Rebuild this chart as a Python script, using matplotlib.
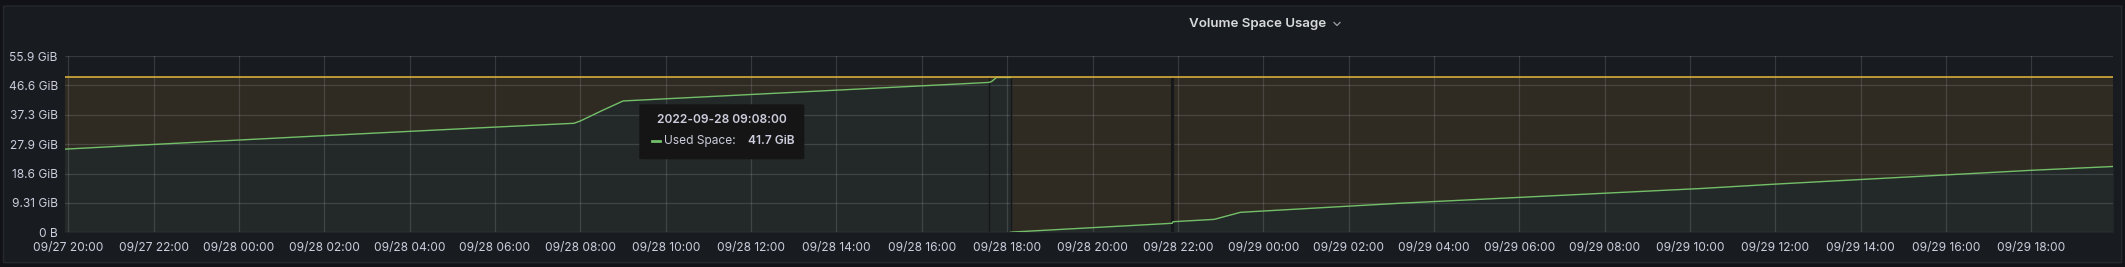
"""Volume Space Usage panel, Grafana dark style."""

import matplotlib
matplotlib.use("Agg")
import matplotlib.pyplot as plt
import matplotlib.dates as mdates
from matplotlib.patches import FancyBboxPatch
from matplotlib.lines import Line2D
import pandas as pd

# used space (GB, 1e9 bytes)
seg1_times = ["2022-09-27 19:55", "2022-09-27 22:00", "2022-09-28 02:00", "2022-09-28 06:00",
              "2022-09-28 07:51", "2022-09-28 08:00", "2022-09-28 08:32", "2022-09-28 09:00",
              "2022-09-28 09:08", "2022-09-28 12:00", "2022-09-28 17:34", "2022-09-28 17:38",
              "2022-09-28 17:45", "2022-09-28 18:05"]
seg1_gb = [28.3, 29.9, 32.9, 35.8, 37.1, 37.9, 41.6, 44.7, 44.8, 46.9, 51.0, 51.3, 52.7, 52.7]

seg2_times = ["2022-09-28 18:05", "2022-09-28 21:52", "2022-09-28 21:53", "2022-09-28 22:51",
              "2022-09-28 23:28", "2022-09-29 03:13", "2022-09-29 10:15", "2022-09-29 12:00",
              "2022-09-29 18:00", "2022-09-29 19:55"]
seg2_gb = [0.05, 3.07, 3.6, 4.4, 6.8, 9.9, 14.9, 16.4, 21.1, 22.4]

threshold_gb = 52.7
marker_times = ["2022-09-28 17:34", "2022-09-28 18:05", "2022-09-28 21:52"]
marker_widths = [1.0, 1.0, 2.2]

ytick_gb = [0, 10, 20, 30, 40, 50, 60]
ytick_labels = ["0 B", "9.31 GiB", "18.6 GiB", "27.9 GiB", "37.3 GiB", "46.6 GiB", "55.9 GiB"]
x_start, x_end = "2022-09-27 19:55", "2022-09-29 19:55"

tooltip_time = "2022-09-28 09:08:00"
tooltip_value = "41.7 GiB"

PAGE = "#111217"
PANEL = "#181b1f"
TEXT = "#ccccdc"
GREEN = "#73bf69"
YELLOW = "#d6ad3a"

W, H = 2125, 267
fig = plt.figure(figsize=(W / 100, H / 100), dpi=100, facecolor=PAGE)


def px(x, y):
    # pixel (top-left origin) -> figure fraction
    return x / W, 1 - y / H


fig.patches.append(FancyBboxPatch(px(3.5, 262.7), (2121.7 - 3.5) / W, (262.7 - 6) / H,
                                  boxstyle="round,pad=0,rounding_size=0.002",
                                  transform=fig.transFigure, facecolor=PANEL,
                                  edgecolor="#25282e", linewidth=1, zorder=-5))

left, right, top, bottom = 64.7, 2113.3, 56.0, 232.3
ax = fig.add_axes([left / W, 1 - bottom / H, (right - left) / W, (bottom - top) / H])
ax.set_zorder(1)
ax.set_facecolor(PANEL)

t1 = pd.to_datetime(seg1_times)
t2 = pd.to_datetime(seg2_times)
v1 = [g * 1e9 for g in seg1_gb]
v2 = [g * 1e9 for g in seg2_gb]
thr = threshold_gb * 1e9

ax.axhspan(0, thr, color="#2f2b23", zorder=1, lw=0)
for t, v in ((t1, v1), (t2, v2)):
    ax.fill_between(t, 0, v, color="#232929", zorder=1.2, lw=0)
    ax.plot(t, v, color=GREEN, lw=1.0, zorder=3)
ax.axhline(thr, color=YELLOW, lw=1.2, zorder=3)

for mt, mw in zip(pd.to_datetime(marker_times), marker_widths):
    ax.plot([mt, mt], [0, thr], color="#15171b", lw=mw, zorder=2.8)

ax.set_xlim(pd.Timestamp(x_start), pd.Timestamp(x_end))
ax.set_ylim(0, 60e9)
ax.set_yticks([g * 1e9 for g in ytick_gb])
ax.set_yticklabels(ytick_labels)
ax.xaxis.set_major_locator(mdates.HourLocator(byhour=range(0, 24, 2)))
ax.xaxis.set_major_formatter(mdates.DateFormatter("%m/%d %H:%M"))

ax.set_axisbelow(False)
ax.grid(True, color=TEXT, alpha=0.17, lw=0.9, zorder=2)
for s in ax.spines.values():
    s.set_visible(False)
ax.tick_params(length=0, colors=TEXT, labelsize=8.6)
ax.tick_params(axis="x", pad=7)
ax.tick_params(axis="y", pad=5)
for lab in ax.get_xticklabels() + ax.get_yticklabels():
    lab.set_family("Inter")

# title with dropdown chevron
fig.text(*px(1258, 23.5), "Volume Space Usage", ha="center", va="center", color="#d8d9da",
         fontsize=9.6, family="Inter", fontweight="semibold")
cx, cy = 1337, 24
fig.add_artist(Line2D([px(cx - 3, 0)[0], px(cx, 0)[0], px(cx + 3, 0)[0]],
                      [px(0, cy - 1.5)[1], px(0, cy + 1.5)[1], px(0, cy - 1.5)[1]],
                      color="#9fa1a6", lw=0.9, transform=fig.transFigure))

# hover tooltip
fig.patches.append(FancyBboxPatch(px(639.3, 159.3), (804.3 - 639.3) / W, (159.3 - 104.3) / H,
                                  boxstyle="round,pad=0,rounding_size=0.0025",
                                  transform=fig.transFigure, facecolor="#151515",
                                  edgecolor="none", zorder=10))
fig.text(*px(721.8, 120), tooltip_time, ha="center", va="center", color=TEXT,
         fontsize=8.6, family="Inter", fontweight="semibold", zorder=11)
fig.add_artist(Line2D([px(651.7, 0)[0], px(660, 0)[0]], [px(0, 141)[1]] * 2,
                      color=GREEN, lw=2, transform=fig.transFigure, zorder=11))
fig.text(*px(664, 141), "Used Space:", ha="left", va="center", color=TEXT,
         fontsize=8.6, family="Inter", zorder=11)
fig.text(*px(794.3, 141), tooltip_value, ha="right", va="center", color=TEXT,
         fontsize=8.6, family="Inter", fontweight="semibold", zorder=11)

fig.savefig("out.png", dpi=100, facecolor=PAGE)
